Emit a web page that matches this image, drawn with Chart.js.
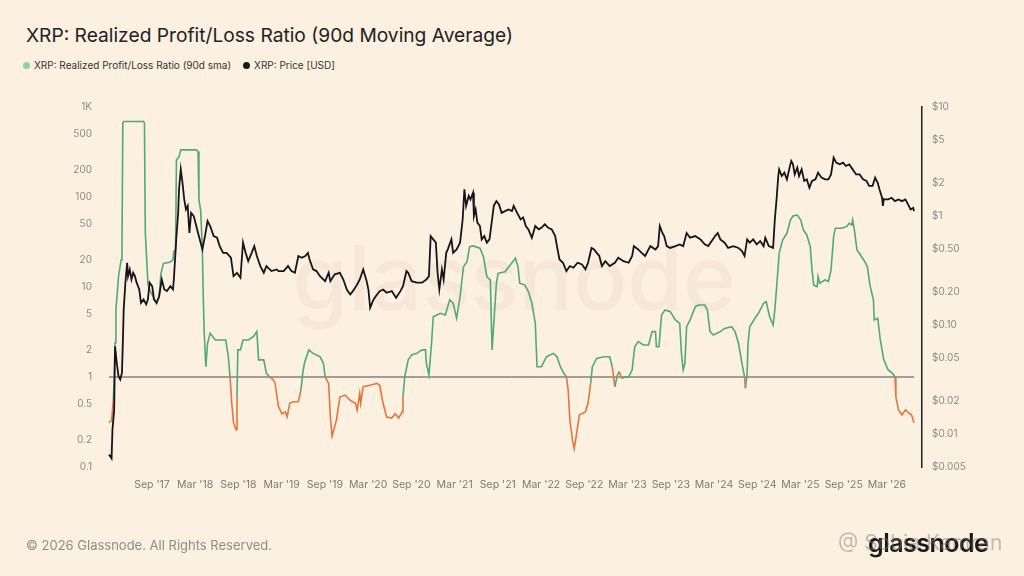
<!DOCTYPE html>
<html>
<head>
<meta charset="utf-8">
<script src="https://cdn.jsdelivr.net/npm/chart.js@4.4.1/dist/chart.umd.min.js"></script>
<style>
  html, body { margin: 0; padding: 0; }
  body { width: 1024px; height: 576px; background: #fcf0e1; position: relative; overflow: hidden; font-family: Inter, "Noto Sans", sans-serif; }
  #c { position: absolute; left: 0; top: 0; }
  .title { position: absolute; left: 26px; top: 23px; font-size: 19.2px; color: #222; white-space: nowrap; }
  .legend { position: absolute; left: 23px; top: 59px; font-size: 10px; color: #333; white-space: nowrap; }
  .legend .dot { display: inline-block; width: 7px; height: 7px; border-radius: 50%; margin-right: 4px; vertical-align: 0px; }
  .footer { position: absolute; left: 26px; top: 537px; font-size: 13px; color: #8c8c8c; }
  .logo { position: absolute; left: 868px; top: 528px; font-size: 25px; font-weight: 600; color: #1a1a1a; letter-spacing: -0.5px; }
  .tag { position: absolute; left: 838px; top: 530px; font-size: 21px; color: rgba(120,120,120,0.45); white-space: nowrap; }
</style>
</head>
<body>
<div class="title">XRP: Realized Profit/Loss Ratio (90d Moving Average)</div>
<div class="legend"><span class="dot" style="background:#8fd3ab"></span>XRP: Realized Profit/Loss Ratio (90d sma)<span class="dot" style="background:#1a1a1a;margin-left:12px"></span>XRP: Price [USD]</div>
<canvas id="c" width="1024" height="576"></canvas>
<div class="footer">© 2026 Glassnode. All Rights Reserved.</div>
<div class="logo">glassnode</div>
<div class="tag">@ Sobia Kamran</div>
<script>
// dates are decimal years
const ratioT = [2017.17,2017.20,2017.22,2017.23,2017.24,2017.25,2017.28,2017.31,2017.32,2017.33,2017.34,2017.57,2017.58,2017.59,2017.62,2017.64,2017.68,2017.72,2017.75,2017.77,2017.80,2017.88,2017.91,2017.92,2017.94,2017.95,2017.98,2018.00,2018.18,2018.20,2018.21,2018.23,2018.25,2018.26,2018.27,2018.29,2018.31,2018.34,2018.40,2018.52,2018.55,2018.57,2018.59,2018.61,2018.64,2018.65,2018.66,2018.69,2018.72,2018.78,2018.84,2018.88,2018.90,2018.96,2018.99,2019.03,2019.07,2019.09,2019.13,2019.17,2019.21,2019.23,2019.26,2019.30,2019.36,2019.39,2019.41,2019.43,2019.48,2019.53,2019.61,2019.65,2019.67,2019.71,2019.73,2019.75,2019.77,2019.80,2019.84,2019.90,2019.96,2020.02,2020.04,2020.07,2020.08,2020.11,2020.19,2020.27,2020.30,2020.34,2020.38,2020.44,2020.48,2020.52,2020.56,2020.57,2020.59,2020.63,2020.67,2020.73,2020.79,2020.83,2020.84,2020.87,2020.90,2020.92,2020.96,2021.00,2021.06,2021.11,2021.15,2021.19,2021.23,2021.27,2021.31,2021.34,2021.38,2021.46,2021.50,2021.54,2021.58,2021.60,2021.62,2021.65,2021.67,2021.75,2021.81,2021.87,2021.90,2021.92,2021.98,2022.02,2022.06,2022.10,2022.12,2022.17,2022.23,2022.31,2022.35,2022.39,2022.43,2022.46,2022.48,2022.50,2022.53,2022.55,2022.57,2022.61,2022.68,2022.71,2022.74,2022.76,2022.81,2022.89,2022.96,2022.99,2023.02,2023.05,2023.07,2023.10,2023.14,2023.18,2023.22,2023.25,2023.29,2023.35,2023.41,2023.45,2023.49,2023.50,2023.53,2023.56,2023.60,2023.66,2023.72,2023.77,2023.79,2023.81,2023.83,2023.85,2023.89,2023.95,2023.99,2024.06,2024.09,2024.12,2024.16,2024.20,2024.24,2024.29,2024.37,2024.41,2024.45,2024.49,2024.52,2024.53,2024.55,2024.56,2024.58,2024.64,2024.68,2024.74,2024.77,2024.81,2024.85,2024.87,2024.90,2024.92,2024.96,2025.01,2025.05,2025.08,2025.13,2025.17,2025.20,2025.24,2025.28,2025.30,2025.32,2025.36,2025.37,2025.39,2025.45,2025.49,2025.52,2025.55,2025.57,2025.64,2025.70,2025.73,2025.76,2025.77,2025.79,2025.82,2025.86,2025.91,2025.94,2025.97,2026.01,2026.02,2026.06,2026.09,2026.13,2026.18,2026.23,2026.26,2026.27,2026.30,2026.34,2026.38,2026.43,2026.45,2026.48];
const ratioV = [0.31,0.33,0.55,1.0,2.4,5.5,13,20,26,660,690,690,660,40,11,9.3,7.8,6.6,7.8,14,18.3,19,20,24.7,26,258,280,334,334,320,93,71,26,7.8,3.3,1.3,2.37,3.06,2.58,2.58,1.68,1.0,0.51,0.31,0.26,0.6,2.0,2.0,2.58,2.58,2.8,3.2,1.55,1.55,1.1,1.0,0.93,0.86,0.47,0.39,0.41,0.36,0.51,0.53,0.53,0.72,1.1,1.42,2.0,1.83,1.68,1.42,1.0,0.85,0.36,0.22,0.26,0.33,0.6,0.63,0.55,0.51,0.43,0.66,0.51,0.78,0.81,0.85,0.81,0.51,0.36,0.35,0.39,0.35,0.41,0.6,1.0,1.55,1.76,1.83,2.0,2.0,1.42,1.05,2.37,4.67,4.88,5.1,4.88,7.2,6.6,4.5,7.8,16.8,19.1,28,28.6,27,21.8,13,12,2.0,3.95,11,14.2,14.8,17.6,20.9,16.8,11,10.5,8.9,6.6,3.95,1.3,1.3,1.68,1.83,1.68,1.3,1.1,1.0,0.72,0.33,0.2,0.16,0.21,0.38,0.41,0.51,0.85,1.3,1.61,1.68,1.68,1.3,0.78,1.05,1.15,0.97,1.0,1.0,1.2,2.17,2.47,2.27,2.27,3.19,3.19,2.17,2.17,4.88,5.55,5.32,4.3,3.95,1.83,1.2,1.42,3.62,4.3,6.04,6.3,6.3,5.55,3.19,2.93,3.06,3.19,3.47,3.62,3.19,2.37,1.42,1.0,0.75,1.1,2.37,3.62,4.5,5.1,6.6,6.9,4.67,3.78,5.55,13,23.7,33.3,39.5,55.5,61.5,63,55.5,43,37.9,28,15.5,10.5,10.1,13,11,12,11.5,15.5,36.3,45,45,46.8,51,49,55.5,43,25.8,22.7,19.1,16.8,10.5,7.2,4.3,4.5,2.58,1.55,1.2,1.1,1.0,0.6,0.43,0.38,0.43,0.39,0.38,0.31];

const priceT = [2017.17,2017.20,2017.21,2017.23,2017.24,2017.26,2017.28,2017.30,2017.32,2017.33,2017.34,2017.36,2017.38,2017.39,2017.41,2017.43,2017.45,2017.47,2017.49,2017.52,2017.54,2017.57,2017.60,2017.62,2017.64,2017.67,2017.69,2017.72,2017.75,2017.78,2017.81,2017.84,2017.88,2017.91,2017.92,2017.95,2017.97,2017.98,2018.00,2018.02,2018.04,2018.06,2018.08,2018.10,2018.12,2018.15,2018.17,2018.20,2018.23,2018.25,2018.28,2018.31,2018.34,2018.38,2018.42,2018.45,2018.49,2018.53,2018.58,2018.61,2018.65,2018.69,2018.72,2018.75,2018.78,2018.82,2018.85,2018.88,2018.92,2018.96,2018.99,2019.05,2019.11,2019.13,2019.19,2019.24,2019.28,2019.32,2019.36,2019.40,2019.44,2019.47,2019.49,2019.53,2019.57,2019.61,2019.67,2019.71,2019.73,2019.78,2019.84,2019.88,2019.92,2019.96,2019.99,2020.04,2020.07,2020.11,2020.15,2020.17,2020.19,2020.23,2020.27,2020.30,2020.34,2020.38,2020.44,2020.49,2020.54,2020.57,2020.61,2020.63,2020.67,2020.73,2020.79,2020.84,2020.87,2020.89,2020.92,2020.95,2020.97,2020.99,2021.02,2021.04,2021.07,2021.09,2021.13,2021.15,2021.19,2021.23,2021.26,2021.28,2021.30,2021.33,2021.35,2021.38,2021.39,2021.41,2021.43,2021.46,2021.48,2021.51,2021.54,2021.57,2021.60,2021.62,2021.65,2021.68,2021.71,2021.75,2021.79,2021.83,2021.85,2021.89,2021.93,2021.96,2021.99,2022.02,2022.06,2022.10,2022.14,2022.17,2022.21,2022.25,2022.29,2022.33,2022.35,2022.38,2022.42,2022.46,2022.50,2022.54,2022.59,2022.64,2022.68,2022.71,2022.75,2022.78,2022.81,2022.84,2022.87,2022.91,2022.96,2023.02,2023.06,2023.12,2023.18,2023.22,2023.24,2023.29,2023.33,2023.37,2023.43,2023.49,2023.52,2023.54,2023.57,2023.59,2023.62,2023.66,2023.72,2023.77,2023.81,2023.85,2023.89,2023.95,2024.01,2024.06,2024.10,2024.14,2024.18,2024.21,2024.24,2024.29,2024.33,2024.39,2024.45,2024.49,2024.52,2024.55,2024.58,2024.62,2024.66,2024.70,2024.74,2024.76,2024.80,2024.85,2024.87,2024.89,2024.91,2024.92,2024.95,2024.98,2025.01,2025.04,2025.06,2025.08,2025.10,2025.13,2025.15,2025.18,2025.21,2025.24,2025.27,2025.30,2025.34,2025.37,2025.41,2025.45,2025.49,2025.52,2025.55,2025.58,2025.62,2025.66,2025.69,2025.73,2025.77,2025.81,2025.85,2025.89,2025.93,2025.96,2026.00,2026.03,2026.06,2026.08,2026.11,2026.12,2026.13,2026.18,2026.22,2026.26,2026.30,2026.34,2026.38,2026.41,2026.44,2026.47,2026.48];
const priceV = [0.0065,0.006,0.011,0.0167,0.064,0.045,0.034,0.0317,0.0365,0.0687,0.139,0.245,0.373,0.281,0.324,0.262,0.302,0.281,0.245,0.212,0.16,0.172,0.155,0.172,0.245,0.227,0.172,0.16,0.184,0.262,0.212,0.205,0.227,0.212,0.262,0.655,1.07,1.76,2.68,2.02,1.42,1.15,1.24,0.70,1.07,1.0,0.87,0.70,0.57,0.494,0.655,0.9,0.81,0.655,0.633,0.53,0.46,0.46,0.415,0.281,0.302,0.272,0.57,0.46,0.386,0.46,0.53,0.43,0.348,0.302,0.348,0.313,0.324,0.313,0.313,0.348,0.313,0.302,0.43,0.415,0.43,0.46,0.4,0.324,0.313,0.281,0.253,0.302,0.253,0.292,0.302,0.262,0.212,0.191,0.205,0.236,0.262,0.324,0.253,0.212,0.144,0.172,0.191,0.205,0.212,0.198,0.205,0.178,0.205,0.228,0.313,0.302,0.253,0.245,0.245,0.262,0.281,0.655,0.611,0.57,0.302,0.212,0.324,0.262,0.46,0.5,0.611,0.46,0.494,0.57,0.93,1.76,1.24,1.53,1.42,1.64,1.0,1.15,0.87,0.81,0.611,0.655,0.57,0.611,0.93,1.24,1.37,1.28,1.07,1.11,1.15,1.11,1.24,1.07,0.93,0.97,0.81,0.755,0.633,0.81,0.755,0.78,0.84,0.78,0.755,0.655,0.53,0.4,0.373,0.313,0.348,0.336,0.373,0.36,0.324,0.373,0.51,0.494,0.46,0.43,0.348,0.386,0.348,0.373,0.415,0.386,0.373,0.43,0.53,0.494,0.46,0.43,0.53,0.494,0.53,0.81,0.70,0.655,0.53,0.51,0.53,0.55,0.53,0.70,0.633,0.655,0.611,0.55,0.53,0.59,0.655,0.70,0.611,0.57,0.51,0.53,0.51,0.477,0.43,0.611,0.57,0.611,0.55,0.59,0.53,0.633,0.53,0.51,0.93,1.42,2.33,2.68,2.33,2.5,2.17,2.78,3.2,2.98,2.41,2.78,2.33,2.68,2.1,2.17,1.82,2.1,2.17,2.5,2.25,2.17,2.17,2.41,3.44,3.09,2.98,3.09,2.88,2.98,2.68,2.41,2.41,2.17,2.1,1.89,1.89,2.25,2.02,1.76,1.47,1.24,1.42,1.42,1.47,1.37,1.42,1.37,1.42,1.28,1.15,1.19,1.11];

const dateLabels = ["Sep '17","Mar '18","Sep '18","Mar '19","Sep '19","Mar '20","Sep '20","Mar '21","Sep '21","Mar '22","Sep '22","Mar '23","Sep '23","Mar '24","Sep '24","Mar '25","Sep '25","Mar '26"];
const ratioTicks = [0.1,0.2,0.5,1,2,5,10,20,50,100,200,500,1000];
const ratioTickLabels = ['0.1','0.2','0.5','1','2','5','10','20','50','100','200','500','1K'];
const priceTicks = [0.005,0.01,0.02,0.05,0.1,0.2,0.5,1,2,5,10];
const priceTickLabels = ['$0.005','$0.01','$0.02','$0.05','$0.10','$0.20','$0.50','$1','$2','$5','$10'];

const GREEN = '#52a878';
const ORANGE = '#e4763d';
const MONTHS = ['Jan','Feb','Mar','Apr','May','Jun','Jul','Aug','Sep','Oct','Nov','Dec'];
const dateTickVals = dateLabels.map(l => 2000 + parseInt(l.slice(5)) + MONTHS.indexOf(l.slice(0, 3)) / 12);

const toPoints = (xs, ys) => xs.map((x, i) => ({ x: x, y: ys[i] }));

const watermark = {
  id: 'watermark',
  beforeDatasetsDraw(chart) {
    const c = chart.ctx;
    c.save();
    c.font = '500 90px Inter';
    c.fillStyle = 'rgba(210,165,125,0.11)';
    c.textAlign = 'center';
    c.fillText('glassnode', 514, 310);
    c.restore();
  }
};

const tickFont = { family: 'Inter', size: 10 };

new Chart(document.getElementById('c'), {
  type: 'line',
  data: {
    datasets: [
      {
        label: 'XRP: Price [USD]',
        data: toPoints(priceT, priceV),
        yAxisID: 'y2',
        borderColor: '#17131a',
        borderWidth: 1.8,
        pointRadius: 0,
        order: 0
      },
      {
        label: 'XRP: Realized Profit/Loss Ratio (90d sma)',
        data: toPoints(ratioT, ratioV),
        yAxisID: 'y',
        borderColor: GREEN,
        segment: { borderColor: s => s.p1.parsed.y >= 1 ? GREEN : ORANGE },
        borderWidth: 1.6,
        pointRadius: 0,
        order: 1
      },
      {
        label: 'one',
        data: [{ x: ratioT[0], y: 1 }, { x: ratioT[ratioT.length - 1], y: 1 }],
        yAxisID: 'y',
        borderColor: '#4a4a4a',
        borderWidth: 1,
        pointRadius: 0,
        order: 2
      }
    ]
  },
  options: {
    responsive: false,
    animation: false,
    layout: { padding: { top: 107, bottom: 69, left: 0, right: 0 } },
    plugins: { legend: { display: false }, tooltip: { enabled: false } },
    scales: {
      x: {
        type: 'linear',
        min: 2017.066,
        max: 2026.572,
        afterBuildTicks: s => { s.ticks = dateTickVals.map(v => ({ value: v })); },
        afterFit: s => { s.height = 40; },
        grid: { display: false, drawTicks: false },
        border: { display: false },
        ticks: { autoSkip: false, maxRotation: 0, padding: 12, color: '#7a7a7a', font: { family: 'Inter', size: 10.5 }, callback: (v, i) => dateLabels[i] }
      },
      y: {
        type: 'logarithmic',
        position: 'left',
        min: 0.1,
        max: 1000,
        afterBuildTicks: s => { s.ticks = ratioTicks.map(v => ({ value: v })); },
        afterFit: s => { s.width = 100; },
        grid: { display: false, drawTicks: false },
        border: { display: false },
        ticks: { autoSkip: false, padding: 8, color: '#8a8a8a', font: tickFont, callback: (v, i) => ratioTickLabels[i] }
      },
      y2: {
        type: 'logarithmic',
        position: 'right',
        min: 0.005,
        max: 10,
        afterBuildTicks: s => { s.ticks = priceTicks.map(v => ({ value: v })); },
        afterFit: s => { s.width = 102; },
        grid: { display: false, drawTicks: false },
        border: { display: true, color: '#1e1e1e', width: 1.5 },
        ticks: { autoSkip: false, padding: 10, color: '#8a8a8a', font: tickFont, callback: (v, i) => priceTickLabels[i] }
      }
    }
  },
  plugins: [watermark]
});
</script>
</body>
</html>
